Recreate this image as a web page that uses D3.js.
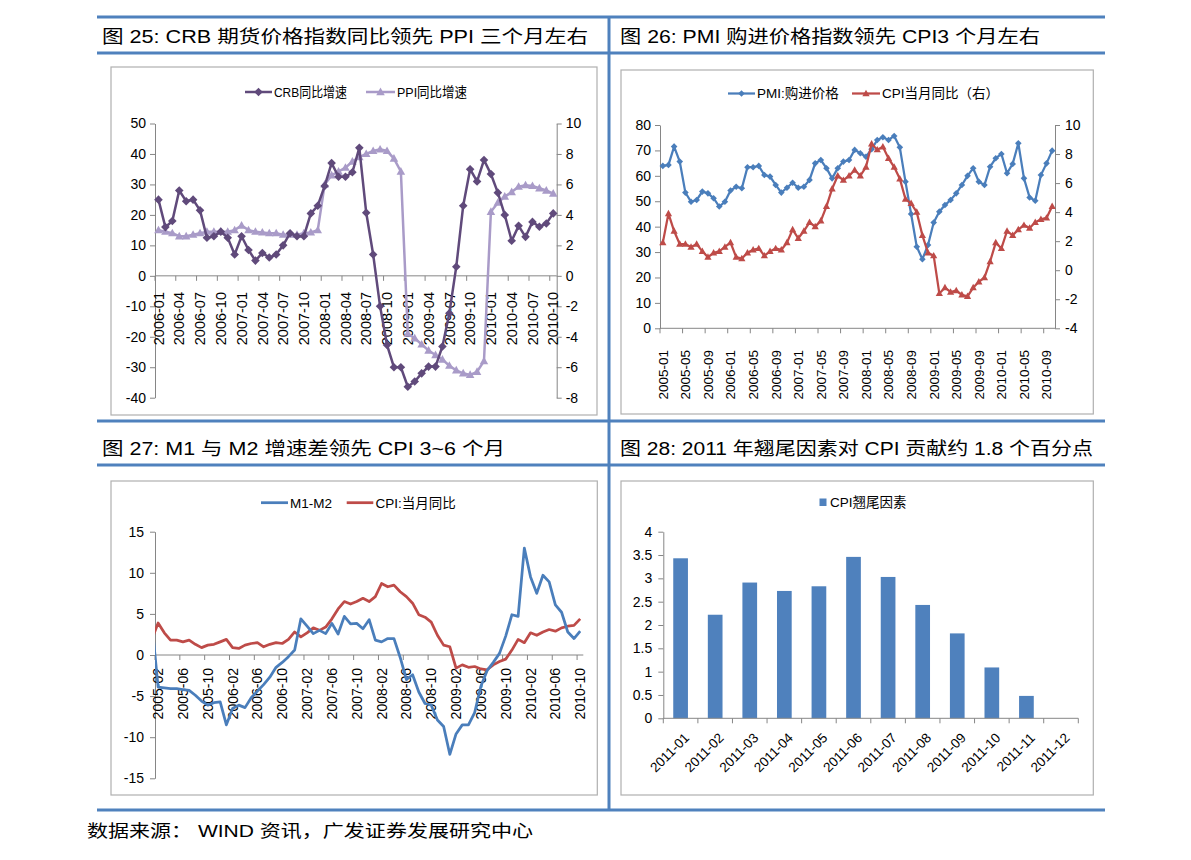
<!DOCTYPE html>
<html><head><meta charset="utf-8">
<script src="https://cdn.jsdelivr.net/npm/d3@7"></script>
<style>
body{margin:0;background:#fff;}
svg text{font-family:"Liberation Sans","Noto Sans CJK SC",sans-serif;fill:#000;}
</style></head><body>
<script>
// ---------------- DATA ----------------
const fmt = d3.timeFormat("%Y-%m");
const months06 = d3.timeMonth.range(new Date(2006,0,1), new Date(2010,10,1)).map(fmt); // 2006-01..2010-10
const months05 = d3.timeMonth.range(new Date(2005,0,1), new Date(2010,10,1)).map(fmt); // 2005-01..2010-10

// Fig 25
const crb = [25,16,18,28,24.5,25,21.5,12.5,13,14.5,12.5,7,13,8.5,5,7.5,6,7,10,14,13,13,20.5,23,29.5,37,32.5,32.5,34,42,20.7,7,-10,-22.7,-30,-30,-36.4,-34.7,-32,-29.8,-29.8,-23.2,-12.3,3,23,35,31,38,33.4,27.3,20,11.5,16.4,12.8,17.7,16.1,17.2,20.5];
const ppi = [3.0,2.9,2.8,2.6,2.6,2.7,2.8,2.9,2.9,2.9,2.9,3.0,3.3,3.0,2.9,2.85,2.8,2.8,2.7,2.7,2.7,2.8,2.85,3.0,6.0,6.6,6.85,7.1,7.5,7.8,8.0,8.2,8.3,8.2,7.7,6.85,-3.8,-4.1,-4.5,-4.9,-5.2,-5.5,-5.9,-6.2,-6.4,-6.5,-6.3,-5.6,4.2,4.8,5.2,5.5,5.85,5.95,5.9,5.75,5.6,5.4];

// Fig 26
const pmi = [63.9,64.3,71.5,65.6,53.4,49.8,50.5,53.8,53.1,51.2,47.9,49.8,54.2,55.7,55.1,63.4,63.4,63.9,60.3,59.7,56.4,53.4,55.3,57.3,55.3,55.7,58.4,64.9,66.2,63,59,63,65.6,66.2,70.2,68.9,67.5,70.5,74.1,75.2,74.1,75.7,71.2,57.7,45,32.1,27.2,32.8,41.6,45.9,48.5,50.5,53.1,56.4,60,63,57.7,56.4,63.6,66.9,68.6,61,64.7,72.8,59,51.5,50.2,60.3,64.9,69.9];
const cpi = [1.9,3.9,2.7,1.8,1.8,1.6,1.8,1.3,0.9,1.2,1.3,1.6,
             1.9,0.9,0.8,1.2,1.4,1.5,1.0,1.3,1.5,1.4,1.9,2.8,
             2.2,2.7,3.3,3.0,3.4,4.4,5.6,6.5,6.2,6.5,6.9,6.5,
             7.1,8.7,8.3,8.5,7.7,7.1,6.3,4.9,4.6,4.0,2.4,1.2,
             1.0,-1.6,-1.2,-1.5,-1.4,-1.7,-1.8,-1.2,-0.8,-0.5,0.6,1.9,
             1.5,2.7,2.4,2.8,3.1,2.9,3.3,3.5,3.6,4.4];

// Fig 27 (2005-01 .. 2010-10)
const m1m2 = [3.9,-3.9,-4.0,-4.1,-4.1,-4.2,-4.3,-4.9,-5.6,-6.1,-5.8,-5.7,
              -8.5,-6.5,-6.1,-6.4,-5.2,-4.4,-3.6,-2.7,-1.5,-0.9,-0.2,0.6,
              4.4,3.5,2.6,3.0,2.6,3.85,2.55,4.7,3.8,3.85,3.2,4.3,
              1.8,1.6,2.0,2.0,-0.3,-3.0,-2.4,-4.5,-5.9,-6.1,-7.9,-8.7,
              -12.1,-9.6,-8.5,-8.5,-7.0,-3.8,-1.9,-0.9,0.2,2.3,4.9,4.7,
              13.0,9.5,7.5,9.7,8.9,6.1,5.2,2.8,2.0,2.9];

// Fig 28
const tailMonths = ["2011-01","2011-02","2011-03","2011-04","2011-05","2011-06","2011-07","2011-08","2011-09","2011-10","2011-11","2011-12"];
const tailValues = [3.43,2.22,2.91,2.73,2.83,3.46,3.03,2.43,1.82,1.09,0.48,0];

const titles = ["图 25:  CRB 期货价格指数同比领先 PPI 三个月左右",
                "图 26:  PMI 购进价格指数领先 CPI3 个月左右",
                "图 27:  M1 与 M2 增速差领先 CPI 3~6 个月",
                "图 28:  2011 年翘尾因素对 CPI 贡献约 1.8 个百分点"];
const sourceText = "数据来源：  WIND 资讯，广发证券发展研究中心";

// ---------------- DRAW ----------------
const BLUE = "#4f81bd", PURPLE = "#604a7b", LAV = "#a99bc8", PBLUE = "#4a7ebb", RED = "#be4b48";
const AX = "#868686";
const numFmt = d => String(d);
const svg = d3.select("body").append("svg").attr("width",1191).attr("height",860);

// frame
const fr = svg.append("g").attr("stroke", BLUE).attr("stroke-width", 3);
[17,53,421,465,810].forEach(y => fr.append("line").attr("x1",97).attr("x2",1105).attr("y1",y).attr("y2",y));
fr.append("line").attr("x1",609).attr("x2",609).attr("y1",17).attr("y2",810);

const tpos = [[102,43,486],[620,43,420],[102,455,403],[620,455,473]];
titles.forEach((t,i)=> svg.append("text").attr("x",tpos[i][0]).attr("y",tpos[i][1]).attr("font-size",18)
  .attr("textLength",tpos[i][2]).attr("lengthAdjust","spacingAndGlyphs").text(t));
svg.append("text").attr("x",87).attr("y",837).attr("font-size",17)
  .attr("textLength",446).attr("lengthAdjust","spacingAndGlyphs").text(sourceText);

function box(x,y,w,h){ svg.append("rect").attr("x",x).attr("y",y).attr("width",w).attr("height",h).attr("fill","none").attr("stroke","#b0b0b0").attr("stroke-width",1.2); }
function styleAxis(sel, fs){
  sel.attr("font-size",fs).attr("font-family",null);
  sel.select(".domain").attr("stroke",AX);
  sel.selectAll(".tick line").attr("stroke",AX);
  sel.selectAll(".tick text").attr("fill","#000");
}
const diamond = r => `M0,${-r}L${r},0L0,${r}L${-r},0Z`;
const tri = r => `M0,${-r}L${r*0.95},${r*0.7}L${-r*0.95},${r*0.7}Z`;

function xLabels(g, items, xf, yTop, fs){
  g.selectAll(null).data(items).join("text")
    .attr("transform", d => `translate(${xf(d)},${yTop}) rotate(-90)`)
    .attr("text-anchor","end").attr("dy","0.36em").attr("font-size",fs).text(d=>d);
}

// ===== Panel 1 =====
{
  box(111,67,486,348);
  const g = svg.append("g");
  const x = d3.scaleBand().domain(months06).range([155,556.7]);
  const cx = d => x(d) + x.bandwidth()/2;
  const yL = d3.scaleLinear().domain([-40,50]).range([397.7,123.5]);
  const yR = d3.scaleLinear().domain([-8,10]).range([397.7,123.5]);
  g.append("g").attr("transform","translate(155,0)")
    .call(d3.axisLeft(yL).tickValues(d3.range(-40,51,10)).tickFormat(numFmt).tickSize(5).tickSizeOuter(0).tickPadding(4)).call(s=>styleAxis(s,14));
  g.append("g").attr("transform","translate(556.7,0)")
    .call(d3.axisRight(yR).tickValues(d3.range(-8,11,2)).tickFormat(numFmt).tickSize(5).tickSizeOuter(0).tickPadding(4)).call(s=>styleAxis(s,14));
  const y0 = yL(0);
  g.append("line").attr("x1",155).attr("x2",556.7).attr("y1",y0).attr("y2",y0).attr("stroke",AX);
  const tickM = months06.filter((d,i)=>i%3===0);
  g.selectAll(null).data(tickM).join("line").attr("x1",d=>x(d)).attr("x2",d=>x(d)).attr("y1",y0).attr("y2",y0+5).attr("stroke",AX);
  xLabels(g, tickM, cx, 292, 14.5);

  const lineL = d3.line().x((d,i)=>cx(months06[i])).y(d=>yL(d));
  const lineR = d3.line().x((d,i)=>cx(months06[i])).y(d=>yR(d));
  g.append("path").attr("d",lineR(ppi)).attr("fill","none").attr("stroke",LAV).attr("stroke-width",2.5);
  g.selectAll(null).data(ppi).join("path").attr("d",tri(4.5)).attr("fill",LAV)
    .attr("transform",(d,i)=>`translate(${cx(months06[i])},${yR(d)})`);
  g.append("path").attr("d",lineL(crb)).attr("fill","none").attr("stroke",PURPLE).attr("stroke-width",2.5);
  g.selectAll(null).data(crb).join("path").attr("d",diamond(4.3)).attr("fill",PURPLE)
    .attr("transform",(d,i)=>`translate(${cx(months06[i])},${yL(d)})`);

  // legend
  g.append("line").attr("x1",245).attr("x2",272).attr("y1",92).attr("y2",92).attr("stroke",PURPLE).attr("stroke-width",2.5);
  g.append("path").attr("d",diamond(4.3)).attr("fill",PURPLE).attr("transform","translate(258.5,92)");
  g.append("text").attr("x",274).attr("y",92).attr("dy","0.36em").attr("font-size",13.5).attr("textLength",73).attr("lengthAdjust","spacingAndGlyphs").text("CRB同比增速");
  g.append("line").attr("x1",366).attr("x2",395).attr("y1",92).attr("y2",92).attr("stroke",LAV).attr("stroke-width",2.5);
  g.append("path").attr("d",tri(4.5)).attr("fill",LAV).attr("transform","translate(380.5,92)");
  g.append("text").attr("x",397).attr("y",92).attr("dy","0.36em").attr("font-size",13.5).attr("textLength",70).attr("lengthAdjust","spacingAndGlyphs").text("PPI同比增速");
}

// ===== Panel 2 =====
{
  box(621,70,472.3,344);
  const g = svg.append("g");
  const x = d3.scaleBand().domain(months05).range([660,1055]);
  const cx = d => x(d) + x.bandwidth()/2;
  const yL = d3.scaleLinear().domain([0,80]).range([328.3,125]);
  const yR = d3.scaleLinear().domain([-4,10]).range([328.3,125]);
  g.append("g").attr("transform","translate(660,0)")
    .call(d3.axisLeft(yL).tickValues(d3.range(0,81,10)).tickFormat(numFmt).tickSize(5).tickSizeOuter(0).tickPadding(4)).call(s=>styleAxis(s,14));
  g.append("g").attr("transform","translate(1055,0)")
    .call(d3.axisRight(yR).tickValues(d3.range(-4,11,2)).tickFormat(numFmt).tickSize(5).tickSizeOuter(0).tickPadding(5)).call(s=>styleAxis(s,14));
  const yb = yL(0);
  g.append("line").attr("x1",660).attr("x2",1055).attr("y1",yb).attr("y2",yb).attr("stroke",AX);
  const tickM = months05.filter((d,i)=>i%4===0);
  g.selectAll(null).data(tickM).join("line").attr("x1",d=>x(d)).attr("x2",d=>x(d)).attr("y1",yb).attr("y2",yb+5).attr("stroke",AX);
  xLabels(g, tickM, cx, 350, 13.5);

  const lineL = d3.line().x((d,i)=>cx(months05[i])).y(d=>yL(d));
  const lineR = d3.line().x((d,i)=>cx(months05[i])).y(d=>yR(d));
  g.append("path").attr("d",lineL(pmi)).attr("fill","none").attr("stroke",PBLUE).attr("stroke-width",2.25);
  g.selectAll(null).data(pmi).join("path").attr("d",diamond(3.3)).attr("fill",PBLUE)
    .attr("transform",(d,i)=>`translate(${cx(months05[i])},${yL(d)})`);
  g.append("path").attr("d",lineR(cpi)).attr("fill","none").attr("stroke",RED).attr("stroke-width",2.25);
  g.selectAll(null).data(cpi).join("path").attr("d",tri(3.8)).attr("fill",RED)
    .attr("transform",(d,i)=>`translate(${cx(months05[i])},${yR(d)})`);

  g.append("line").attr("x1",728).attr("x2",755).attr("y1",93.5).attr("y2",93.5).attr("stroke",PBLUE).attr("stroke-width",2.25);
  g.append("path").attr("d",diamond(3.3)).attr("fill",PBLUE).attr("transform","translate(741.5,93.5)");
  g.append("text").attr("x",757).attr("y",93.5).attr("dy","0.36em").attr("font-size",13.5).text("PMI:购进价格");
  g.append("line").attr("x1",852).attr("x2",880).attr("y1",93.5).attr("y2",93.5).attr("stroke",RED).attr("stroke-width",2.25);
  g.append("path").attr("d",tri(3.8)).attr("fill",RED).attr("transform","translate(866,93.5)");
  g.append("text").attr("x",882).attr("y",93.5).attr("dy","0.36em").attr("font-size",13.5).text("CPI当月同比（右）");
}

// ===== Panel 3 =====
{
  box(111,481,486.3,314);
  const g = svg.append("g");
  const xi = d3.scaleLinear().domain([0.5, months05.length-0.5]).range([155,583.3]);
  const y = d3.scaleLinear().domain([-15,15]).range([778.3,531.7]);
  g.append("g").attr("transform","translate(155,0)")
    .call(d3.axisLeft(y).tickValues(d3.range(-15,16,5)).tickFormat(numFmt).tickSize(5).tickSizeOuter(0).tickPadding(6)).call(s=>styleAxis(s,14));
  const y0 = y(0);
  g.append("line").attr("x1",155).attr("x2",583.3).attr("y1",y0).attr("y2",y0).attr("stroke",AX);
  const labIdx = d3.range(1, months05.length, 4);
  g.selectAll(null).data(labIdx).join("line").attr("x1",i=>xi(i-0.5)).attr("x2",i=>xi(i-0.5)).attr("y1",y0).attr("y2",y0+5).attr("stroke",AX);
  g.selectAll(null).data(labIdx).join("text")
    .attr("transform", i => `translate(${xi(i)},668) rotate(-90)`)
    .attr("text-anchor","end").attr("dy","0.36em").attr("font-size",14).text(i=>months05[i]);

  svg.append("clipPath").attr("id","clip3").append("rect").attr("x",155).attr("y",470).attr("width",428.3).attr("height",330);
  const line = d3.line().x((d,i)=>xi(i)).y(d=>y(d));
  const lg = g.append("g").attr("clip-path","url(#clip3)");
  lg.append("path").attr("d",line(cpi)).attr("fill","none").attr("stroke",RED).attr("stroke-width",2.75).attr("stroke-linejoin","round");
  lg.append("path").attr("d",line(m1m2)).attr("fill","none").attr("stroke",PBLUE).attr("stroke-width",2.75).attr("stroke-linejoin","round");

  g.append("line").attr("x1",261).attr("x2",288).attr("y1",502.7).attr("y2",502.7).attr("stroke",PBLUE).attr("stroke-width",2.75);
  g.append("text").attr("x",290).attr("y",502.7).attr("dy","0.36em").attr("font-size",13.5).text("M1-M2");
  g.append("line").attr("x1",346.7).attr("x2",373.3).attr("y1",502.7).attr("y2",502.7).attr("stroke",RED).attr("stroke-width",2.75);
  g.append("text").attr("x",375.5).attr("y",502.7).attr("dy","0.36em").attr("font-size",13.5).text("CPI:当月同比");
}

// ===== Panel 4 =====
{
  box(621,481,472.3,314);
  const g = svg.append("g");
  const x = d3.scaleBand().domain(tailMonths).range([663.3,1078.3]).paddingInner(0.575).paddingOuter(0.2875);
  const y = d3.scaleLinear().domain([0,4]).range([718.3,531.7]);
  g.append("g").attr("transform","translate(663.3,0)")
    .call(d3.axisLeft(y).tickValues(d3.range(0,4.01,0.5)).tickFormat(d3.format("~g")).tickSize(5).tickSizeOuter(0).tickPadding(6)).call(s=>styleAxis(s,14));
  g.selectAll(null).data(tailMonths).join("rect")
    .attr("x",d=>x(d)).attr("y",(d,i)=>y(tailValues[i])).attr("width",x.bandwidth())
    .attr("height",(d,i)=>y(0)-y(tailValues[i])).attr("fill","#4f81bd");
  const y0 = y(0), step = x.step();
  g.append("line").attr("x1",663.3).attr("x2",1078.3).attr("y1",y0).attr("y2",y0).attr("stroke",AX);
  g.selectAll(null).data(d3.range(tailMonths.length+1)).join("line")
    .attr("x1",i=>663.3+i*step).attr("x2",i=>663.3+i*step).attr("y1",y0).attr("y2",y0+5).attr("stroke",AX);
  g.selectAll(null).data(tailMonths).join("text")
    .attr("transform", d => `translate(${x(d)+x.bandwidth()/2+6},${y0+17}) rotate(-45)`)
    .attr("text-anchor","end").attr("dy","0.36em").attr("font-size",13.5).text(d=>d);
  g.append("rect").attr("x",819.5).attr("y",498.5).attr("width",7).attr("height",7.5).attr("fill","#4f81bd");
  g.append("text").attr("x",830).attr("y",502.3).attr("dy","0.36em").attr("font-size",13.5).text("CPI翘尾因素");
}
</script>
</body></html>
